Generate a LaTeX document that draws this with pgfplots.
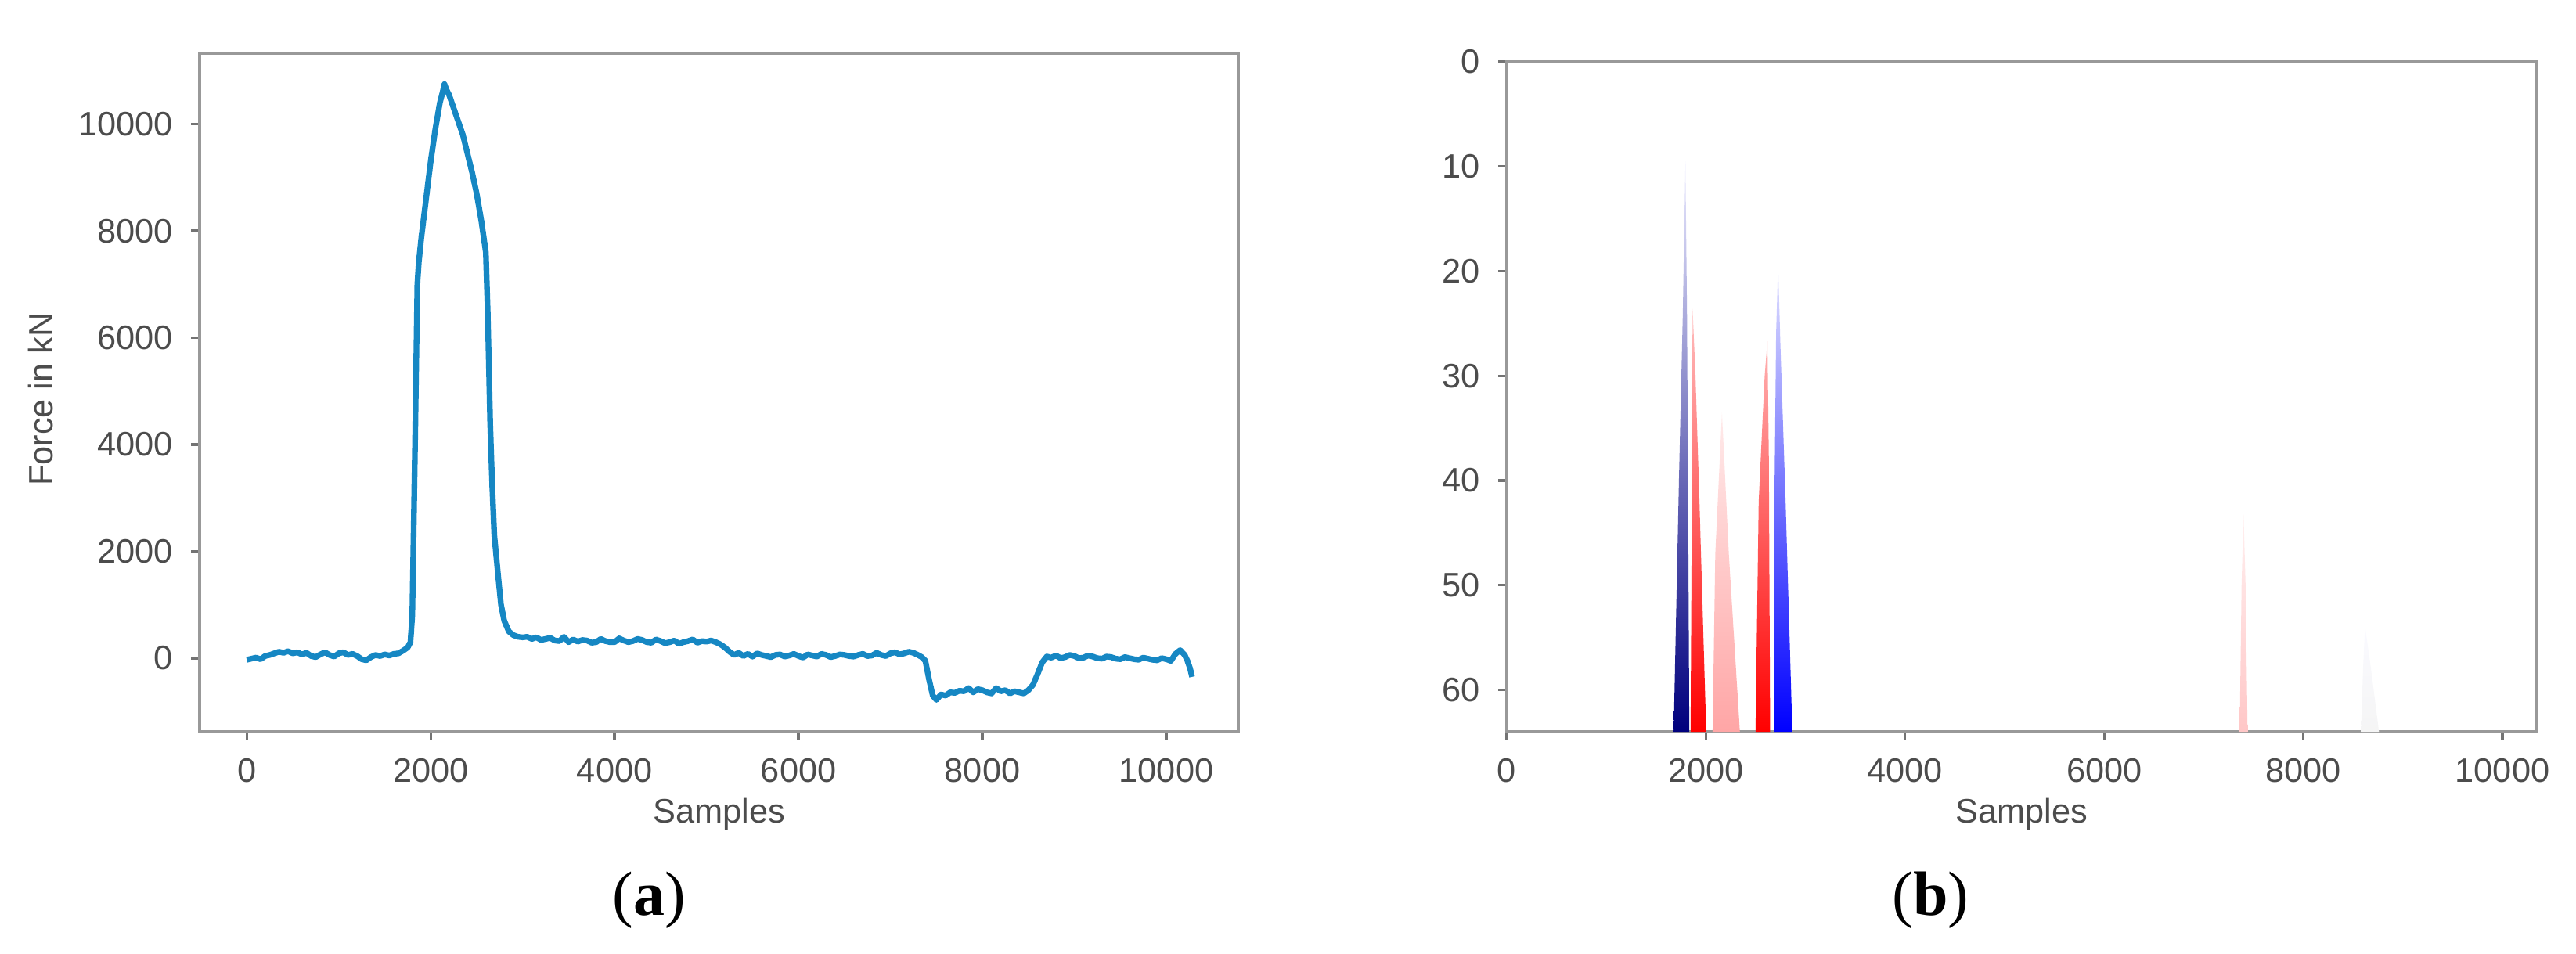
\documentclass[border=0pt]{standalone}
\usepackage{fontspec}
\setmainfont{Liberation Sans}
\newfontfamily\capfont{Liberation Serif}
\usepackage{pgfplots}
\pgfplotsset{compat=1.18}
\definecolor{linec}{RGB}{22,135,195}
\definecolor{navy}{RGB}{0,0,125}
\pgfplotsset{
  common/.style={
    scale only axis,
    anchor=south west,
    axis line style={draw=black!40, line width=0.6pt},
    tick style={draw=black!55, line width=0.5pt},
    major tick length=1.6pt,
    tick align=outside,
    xtick pos=bottom, ytick pos=left,
    font=\fontsize{6.5}{7.5}\selectfont,
    tick label style={text=black!70},
    label style={text=black!70},
    /pgf/number format/assume math mode=true,
    /pgf/number format/1000 sep={},
    scaled ticks=false,
    xtick={0,2000,4000,6000,8000,10000},
    xlabel={Samples},
    xlabel style={at={(axis description cs:0.5,0)}, anchor=center, yshift=-15.8pt},
  }
}
\begin{document}
\begin{tikzpicture}
\useasboundingbox (0,0) rectangle (493.65pt,182.7pt);
% ---------- (a) ----------
\begin{axis}[common,
  at={(38.25pt,42.45pt)}, width=199.05pt, height=130.05pt,
  xmin=-513, xmax=10783, ymin=-1378, ymax=11328,
  ytick={0,2000,4000,6000,8000,10000},
  ylabel={Force in kN},
  ylabel style={at={(axis description cs:-0.153,0.49)}, anchor=center},
]
\addplot[linec, line width=1.1pt, line join=round] coordinates {
(0,-30)(50,-10)(100,10)(150,-20)(200,40)(250,60)(300,90)(350,120)(400,100)(450,130)
(500,90)(550,110)(600,70)(650,100)(700,40)(750,20)(800,70)(850,110)(900,60)(950,30)
(1000,90)(1050,110)(1100,60)(1150,80)(1200,40)(1250,-20)(1300,-40)(1350,20)(1400,60)(1450,40)
(1500,70)(1550,50)(1600,80)(1650,90)(1700,140)(1750,200)(1780,300)(1800,800)(1830,4000)(1855,7000)
(1870,7400)(1900,7900)(1950,8600)(2000,9300)(2050,9900)(2100,10400)(2130,10600)(2150,10750)(2170,10650)(2200,10550)
(2250,10300)(2300,10050)(2350,9800)(2400,9450)(2450,9100)(2500,8700)(2550,8200)(2600,7600)(2620,6500)(2647,4400)
(2670,3200)(2692,2300)(2736,1500)(2765,1000)(2800,700)(2850,500)(2900,430)(2950,400)(3000,390)(3050,400)
(3100,360)(3150,390)(3200,340)(3250,360)(3300,380)(3350,330)(3400,320)(3450,400)(3500,300)(3550,350)
(3600,310)(3650,340)(3700,330)(3750,290)(3800,300)(3850,360)(3900,320)(3950,300)(4000,300)(4050,370)
(4100,330)(4150,300)(4200,320)(4250,360)(4300,340)(4350,300)(4400,290)(4450,350)(4500,320)(4550,280)
(4600,300)(4650,330)(4700,270)(4750,300)(4800,320)(4850,350)(4900,290)(4950,320)(5000,310)(5050,330)
(5100,300)(5150,260)(5200,200)(5250,120)(5300,60)(5350,100)(5400,40)(5450,80)(5500,30)(5550,90)
(5600,60)(5650,40)(5700,20)(5750,60)(5800,70)(5850,30)(5900,50)(5950,80)(6000,40)(6050,10)
(6100,70)(6150,50)(6200,30)(6250,80)(6300,60)(6350,20)(6400,40)(6450,70)(6500,60)(6550,40)
(6600,30)(6650,60)(6700,80)(6750,40)(6800,50)(6850,100)(6900,60)(6950,40)(7000,90)(7050,110)
(7100,70)(7150,90)(7200,120)(7250,100)(7300,60)(7340,20)(7380,-50)(7420,-400)(7460,-700)(7500,-780)
(7550,-680)(7600,-700)(7650,-640)(7700,-650)(7750,-610)(7800,-620)(7850,-560)(7900,-640)(7950,-580)(8000,-600)
(8050,-640)(8100,-660)(8150,-560)(8200,-620)(8250,-600)(8300,-660)(8350,-620)(8400,-640)(8450,-660)(8500,-600)
(8550,-500)(8600,-300)(8650,-80)(8700,30)(8750,10)(8800,50)(8850,0)(8900,20)(8950,60)(9000,40)
(9050,0)(9100,10)(9150,50)(9200,30)(9250,0)(9300,-10)(9350,30)(9400,20)(9450,-10)(9500,-20)
(9550,20)(9600,0)(9650,-20)(9700,-30)(9750,10)(9800,-10)(9850,-30)(9900,-40)(9950,0)(10000,-20)
(10050,-50)(10100,80)(10150,150)(10200,60)(10230,-50)(10260,-200)(10280,-350)
};
\end{axis}
% ---------- (b) ----------
\begin{axis}[common,
  at={(288.75pt,42.45pt)}, width=197.25pt, height=128.4pt,
  xmin=0, xmax=10338, ymin=0, ymax=64, y dir=reverse,
  ytick={0,10,20,30,40,50,60},
]
% faint spikes
\addplot[draw=none, top color=blue!2, bottom color=black!4] coordinates {(8579,64)(8600,58)(8620,53.9)(8680,58)(8760,64)} -- cycle;
\addplot[draw=none, top color=red!6, bottom color=red!22] coordinates {(7361,64)(7380,50)(7400,43.2)(7420,50)(7440,64)} -- cycle;
% pink spike
\addplot[draw=none, top color=red!8, bottom color=red!35] coordinates {(2067,64)(2094,47)(2161,33.5)(2230,47)(2341,64)} -- cycle;
% strong spikes
\addplot[draw=none, top color=blue!8, middle color=blue, bottom color=navy] coordinates {(1676,64)(1729,40)(1768,24)(1794,9.5)(1810,24)(1820,40)(1833,64)} -- cycle;
\addplot[draw=none, top color=red!25, middle color=red, bottom color=red] coordinates {(1846,64)(1860,40)(1866,23.6)(1895,30)(1935,42)(1975,55)(2003,64)} -- cycle;
\addplot[draw=none, top color=red!30, middle color=red!85, bottom color=red] coordinates {(2498,64)(2530,42)(2590,30)(2618,26.7)(2632,38)(2645,64)} -- cycle;
\addplot[draw=none, top color=blue!12, middle color=blue!80, bottom color=blue] coordinates {(2686,64)(2690,40)(2705,26)(2725,19.4)(2748,27)(2800,42)(2868,64)} -- cycle;
\end{axis}
\node[font=\capfont\fontsize{12}{14}\selectfont, anchor=center] at (124.35pt,10.2pt) {(\textbf{a})};
\node[font=\capfont\fontsize{12}{14}\selectfont, anchor=center] at (370pt,10.2pt) {(\textbf{b})};
\end{tikzpicture}
\end{document}
